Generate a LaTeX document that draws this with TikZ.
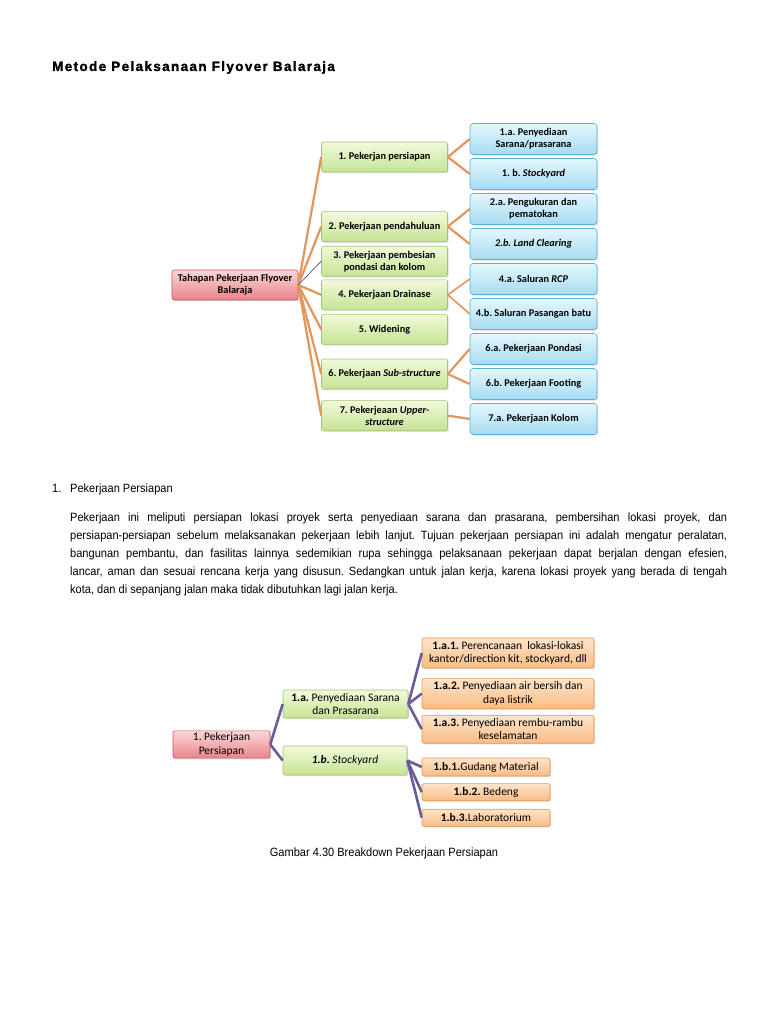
\documentclass[tikz,border=0pt]{standalone}
\usepackage{fontspec}
\usetikzlibrary{positioning,shadows}
\newfontfamily\boxfont{Carlito}
\newfontfamily\bodyfont[FakeStretch=0.92]{Liberation Sans}
\newfontfamily\titlefont[LetterSpace=10,FakeBold=1.5]{Liberation Sans}
\definecolor{greenA}{HTML}{F1FADC}
\definecolor{greenB}{HTML}{C6E394}
\definecolor{greenline}{HTML}{A3C46A}
\definecolor{blueA}{HTML}{E4F7FD}
\definecolor{blueB}{HTML}{A6DCF2}
\definecolor{blueline}{HTML}{5AB3D4}
\definecolor{rootA}{HTML}{FBD6D7}
\definecolor{rootB}{HTML}{E88489}
\definecolor{rootline}{HTML}{C9575B}
\definecolor{orangeA}{HTML}{FDE4CA}
\definecolor{orangeB}{HTML}{F8BC86}
\definecolor{orangeline}{HTML}{E8964E}
\definecolor{linkorange}{HTML}{E3955B}
\definecolor{linkblue}{HTML}{4A6A9C}
\definecolor{linkpurple}{HTML}{6B5B9B}

\begin{document}
\frenchspacing
\begin{tikzpicture}
	[x=1pt,y=-1pt,
	box/.style={rectangle,rounded corners=2pt,line width=0.6pt,align=center,inner sep=2pt,
		drop shadow={opacity=0.25,shadow xshift=1.2pt,shadow yshift=-1.2pt}},
	top/.style={font=\boxfont\bfseries\fontsize{10.3}{12}\selectfont},
	low/.style={font=\boxfont\fontsize{11.5}{13.5}\selectfont},
	rootbox/.style={box,draw=rootline,top color=rootA,bottom color=rootB},
	greenbox/.style={box,draw=greenline,top color=greenA,bottom color=greenB,minimum width=126pt,minimum height=30pt},
	bluebox/.style={box,draw=blueline,top color=blueA,bottom color=blueB,rounded corners=3pt,minimum width=127pt,minimum height=31pt},
	orangebox/.style={box,draw=orangeline,top color=orangeA,bottom color=orangeB},
	branch/.style={linkorange,line width=2.2pt},
	twig/.style={linkpurple,line width=2.6pt}]
	\fill[white] (0,0) rectangle (768,1024);
	\useasboundingbox (0,0) rectangle (768,1024);

	% title and text
	\node[anchor=base west,inner sep=0,font=\titlefont\bfseries\fontsize{13.5}{15}\selectfont]
		(title) at (52,71) {Metode Pelaksanaan Flyover Balaraja};
	\node[anchor=base west,inner sep=0,font=\bodyfont\fontsize{12}{14}\selectfont]
		(head) at (52,492) {\makebox[18pt][l]{1.}Pekerjaan Persiapan};
	\node[anchor=north west,inner sep=0,text width=657pt,align=justify,font=\bodyfont\fontsize{12}{18}\selectfont]
		(para) at (70,513) {Pekerjaan ini meliputi persiapan lokasi proyek serta penyediaan sarana dan prasarana, pembersihan lokasi proyek, dan\linebreak
		persiapan-persiapan sebelum melaksanakan pekerjaan lebih lanjut. Tujuan pekerjaan persiapan ini adalah mengatur peralatan,\linebreak
		bangunan pembantu, dan fasilitas lainnya sedemikian rupa sehingga pelaksanaan pekerjaan dapat berjalan dengan efesien,\linebreak
		lancar, aman dan sesuai rencana kerja yang disusun. Sedangkan untuk jalan kerja, karena lokasi proyek yang berada di tengah\linebreak
		kota, dan di sepanjang jalan maka tidak dibutuhkan lagi jalan kerja.};
	\node[font=\bodyfont\fontsize{12}{14}\selectfont] (caption) at (384,853) {Gambar 4.30 Breakdown Pekerjaan Persiapan};

	% first chart
	\node[rootbox,top,minimum width=126pt,minimum height=30pt] (root) at (235,285) {Tahapan Pekerjaan Flyover\\Balaraja};
	\node[greenbox,top] (g1) at (384.5,157) {1. Pekerjan persiapan};
	\node[greenbox,top] (g2) [below=39pt of g1] {2. Pekerjaan pendahuluan};
	\node[greenbox,top] (g3) [below=4pt of g2] {3. Pekerjaan pembesian\\pondasi dan kolom};
	\node[greenbox,top] (g4) [below=3pt of g3] {4. Pekerjaan Drainase};
	\node[greenbox,top] (g5) [below=4pt of g4] {5. Widening};
	\node[greenbox,top] (g6) [below=14pt of g5] {6. Pekerjaan \textit{Sub-structure}};
	\node[greenbox,top] (g7) [below=11pt of g6] {7. Pekerjeaan \textit{Upper-}\\\textit{structure}};
	\node[bluebox,top] (b1a) at (533.5,139) {1.a. Penyediaan\\Sarana/prasarana};
	\node[bluebox,top] (b1b) [below=3.4pt of b1a] {1. b. \textit{Stockyard}};
	\node[bluebox,top] (b2a) [below=3.4pt of b1b] {2.a. Pengukuran dan\\pematokan};
	\node[bluebox,top] (b2b) [below=3.4pt of b2a] {\textit{2.b. Land Clearing}};
	\node[bluebox,top] (b4a) [below=3.4pt of b2b] {4.a. Saluran \textit{RCP}};
	\node[bluebox,top] (b4b) [below=3.4pt of b4a] {4.b. Saluran Pasangan batu};
	\node[bluebox,top] (b6a) [below=3.4pt of b4b] {6.a. Pekerjaan Pondasi};
	\node[bluebox,top] (b6b) [below=3.4pt of b6a] {6.b. Pekerjaan Footing};
	\node[bluebox,top] (b7a) [below=3.4pt of b6b] {7.a. Pekerjaan Kolom};
	\foreach \g in {g1,g2,g4,g5,g6,g7}
		\draw [branch] (root.east) -- (\g.west);
	\draw [linkblue,line width=0.8pt] (root.east) -- (g3.west);
	\draw [branch] (g1.east) -- (b1a.west);
	\draw [branch] (g1.east) -- (b1b.west);
	\draw [branch] (g2.east) -- (b2a.west);
	\draw [branch] (g2.east) -- (b2b.west);
	\draw [branch,line width=1.6pt] (g4.east) -- (b4a.west);
	\draw [branch,line width=1.6pt] (g4.east) -- (b4b.west);
	\draw [branch] (g6.east) -- (b6a.west);
	\draw [branch] (g6.east) -- (b6b.west);
	\draw [branch] (g7.east) -- (b7a.west);

	% second chart
	\node[rootbox,low,minimum width=97pt,minimum height=27pt] (r2) at (221.5,744.5) {1. Pekerjaan\\Persiapan};
	\node[greenbox,low,minimum width=125pt,minimum height=28pt] (p1a) at (345.5,704) {\textbf{1.a.} Penyediaan Sarana\\dan Prasarana};
	\node[greenbox,low,minimum width=124pt,minimum height=29pt] (p1b) at (345,760.5) {\textbf{\textit{1.b.}} \textit{Stockyard}};
	\node[orangebox,low,minimum width=172pt,minimum height=30pt] (o1) at (508,653) {\textbf{1.a.1.} Perencanaan\ \ lokasi-lokasi\\kantor/direction kit, stockyard, dll};
	\node[orangebox,low,minimum width=172pt,minimum height=30pt] (o2) [below=10pt of o1] {\textbf{1.a.2.} Penyediaan air bersih dan\\daya listrik};
	\node[orangebox,low,minimum width=172pt,minimum height=28pt] (o3) [below=6pt of o2] {\textbf{1.a.3.} Penyediaan rembu-rambu\\keselamatan};
	\node[orangebox,low,minimum width=128pt,minimum height=18pt] (ob1) at (486,767) {\textbf{1.b.1.}Gudang Material};
	\node[orangebox,low,minimum width=128pt,minimum height=17pt] (ob2) [below=7pt of ob1] {\textbf{1.b.2.} Bedeng};
	\node[orangebox,low,minimum width=128pt,minimum height=17pt] (ob3) [below=8pt of ob2] {\textbf{1.b.3.}Laboratorium};
	\draw [twig] (r2.east) -- (p1a.west);
	\draw [twig] (r2.east) -- (p1b.west);
	\foreach \o in {o1,o2,o3}
		\draw [twig] (p1a.east) -- (\o.west);
	\foreach \o in {ob1,ob2,ob3}
		\draw [twig] (p1b.east) -- (\o.west);
\end{tikzpicture}
\end{document}
